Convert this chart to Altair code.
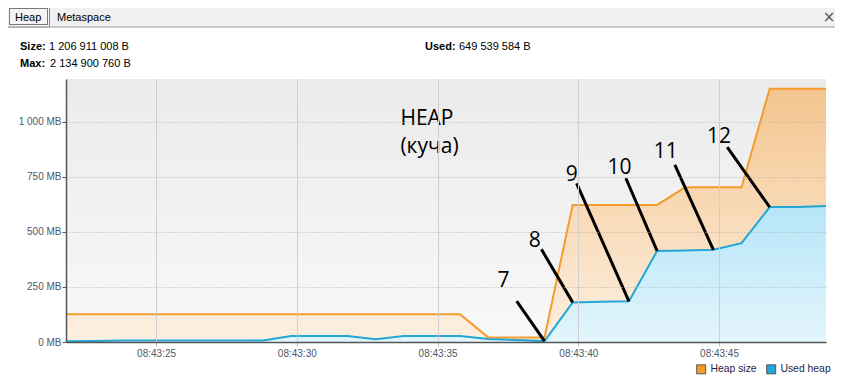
import altair as alt
import pandas as pd

# ---------------- data ----------------
# sample times, seconds after 08:43:00
seconds = [21.8, 22.8, 23.8, 24.8, 25.8, 26.8, 27.8, 28.8, 29.8, 30.8,
           31.8, 32.8, 33.8, 34.8, 35.8, 36.8, 37.8, 38.8, 39.8, 40.8,
           41.8, 42.8, 43.8, 44.8, 45.8, 46.8, 47.8, 48.8]
heap_size_mb = [126, 126, 126, 126, 126, 126, 126, 126, 126, 126,
                126, 126, 126, 126, 126, 21, 21, 21, 623, 623,
                623, 623, 703, 703, 703, 1151, 1151, 1151]
used_heap_mb = [3, 4, 7, 7, 7, 7, 7, 7, 27, 27,
                27, 13, 27, 27, 27, 14, 9, 4, 180, 183,
                185, 414, 416, 419, 449, 613, 613, 618]

x_ticks = [25, 30, 35, 40, 45]
y_ticks = [0, 250, 500, 750, 1000]
series_names = ["Heap size", "Used heap"]
series_colors = ["#f39c2c", "#22a6d6"]

# annotation numbers: label, label position (s, MB), leader start (s, MB), sample index of end
note_labels = ["7", "8", "9", "10", "11", "12"]
note_label_t = [37.34, 38.45, 39.77, 41.46, 43.11, 45.0]
note_label_mb = [250, 432, 732, 764, 836, 905]
note_start_t = [37.81, 38.69, 39.94, 41.69, 43.43, 45.29]
note_start_mb = [186, 421, 721, 744, 805, 885]
note_end_index = [17, 18, 20, 21, 23, 25]

title_lines = ["HEAP", "(куча)"]
title_t = [33.68, 33.68]
title_mb = [986, 859]

W, H = 760, 263
X_DOMAIN = [21.8, 48.8]
Y_DOMAIN = [0, 1195]

df = pd.DataFrame({"t": seconds, "heap": heap_size_mb, "used": used_heap_mb})
long_df = pd.DataFrame({
    "t": seconds * 2,
    "mb": heap_size_mb + used_heap_mb,
    "series": [series_names[0]] * len(seconds) + [series_names[1]] * len(seconds),
})
notes_df = pd.DataFrame({
    "label": note_labels, "lt": note_label_t, "lmb": note_label_mb,
    "st": note_start_t, "smb": note_start_mb,
    "et": [seconds[i] for i in note_end_index],
    "emb": [used_heap_mb[i] for i in note_end_index],
})
title_df = pd.DataFrame({"text": title_lines, "t": title_t, "mb": title_mb})

FONT = "Liberation Sans"

xscale = alt.Scale(domain=X_DOMAIN, nice=False, zero=False)
yscale = alt.Scale(domain=Y_DOMAIN, nice=False)

x_axis = alt.Axis(values=x_ticks, labelExpr="'08:43:' + datum.value", title=None,
                  grid=True, gridColor="#cfcfcf", gridWidth=1,
                  domainColor="#555555", domainWidth=1.5,
                  tickColor="#bbbbbb", tickSize=4, labelPadding=2,
                  labelFont=FONT, labelFontSize=10, labelColor="#4e5866", zindex=1)
y_axis = alt.Axis(values=y_ticks,
                  labelExpr="datum.value == 1000 ? '1 000 MB' : datum.value + ' MB'",
                  title=None, grid=True, gridColor="#b5b5b5", gridDash=[1, 2],
                  domainColor="#555555", domainWidth=1.5,
                  tickColor="#555555", tickSize=4, labelPadding=1,
                  labelFont=FONT, labelFontSize=10, labelColor="#4e5866", zindex=1)

one = pd.DataFrame({"a": [0]})

bg = alt.Chart(one).mark_rect(
    color=alt.Gradient(gradient="linear",
                       stops=[alt.GradientStop(color="#ebebeb", offset=0),
                              alt.GradientStop(color="#f8f8f8", offset=1)],
                       x1=0, x2=0, y1=0, y2=1)
).encode(x=alt.value(0), x2=alt.value(W), y=alt.value(0), y2=alt.value(H))

base = alt.Chart(df)

heap_area = base.mark_area(
    color=alt.Gradient(gradient="linear",
                       stops=[alt.GradientStop(color="#fdf0e1", offset=0),
                              alt.GradientStop(color="#f4c58e", offset=1)],
                       x1=1, x2=1, y1=1, y2=0)
).encode(x=alt.X("t:Q", scale=xscale, axis=x_axis),
         y=alt.Y("heap:Q", scale=yscale, axis=y_axis))

used_area = base.mark_area(
    color=alt.Gradient(gradient="linear",
                       stops=[alt.GradientStop(color="#e3f5fc", offset=0),
                              alt.GradientStop(color="#b6e5f8", offset=1)],
                       x1=1, x2=1, y1=1, y2=0)
).encode(x=alt.X("t:Q", scale=xscale), y=alt.Y("used:Q", scale=yscale))

heap_line = base.mark_line(color=series_colors[0], strokeWidth=2).encode(
    x=alt.X("t:Q", scale=xscale), y=alt.Y("heap:Q", scale=yscale))
used_line = base.mark_line(color=series_colors[1], strokeWidth=2).encode(
    x=alt.X("t:Q", scale=xscale), y=alt.Y("used:Q", scale=yscale))

legend_layer = alt.Chart(long_df).mark_point(shape="square", filled=True, opacity=0).encode(
    x=alt.X("t:Q", scale=xscale), y=alt.Y("mb:Q", scale=yscale),
    color=alt.Color("series:N",
                    scale=alt.Scale(domain=series_names, range=series_colors),
                    legend=alt.Legend(orient="none", legendX=630, legendY=285,
                                      direction="horizontal", title=None,
                                      symbolType="square", symbolSize=81,
                                      symbolOpacity=1, symbolStrokeColor="#555555",
                                      symbolStrokeWidth=1, labelFont=FONT,
                                      labelFontSize=10.4, labelColor="#1e1e46",
                                      labelOffset=4, columnPadding=7)))

leaders = alt.Chart(notes_df).mark_rule(color="black", strokeWidth=3).encode(
    x=alt.X("st:Q", scale=xscale), y=alt.Y("smb:Q", scale=yscale),
    x2="et:Q", y2="emb:Q")

note_text = alt.Chart(notes_df).mark_text(
    font="Open Sans", fontSize=21, color="black", align="center", baseline="alphabetic"
).encode(x=alt.X("lt:Q", scale=xscale), y=alt.Y("lmb:Q", scale=yscale), text="label:N")

title_text = alt.Chart(title_df).mark_text(
    font="Open Sans", fontSize=21, color="black", align="left", baseline="alphabetic"
).encode(x=alt.X("t:Q", scale=xscale), y=alt.Y("mb:Q", scale=yscale), text="text:N")

# ---------------- header (tab bar + stats) ----------------
OX, OY = 66, 79  # page position of plot origin


def px(v):
    return alt.value(v - OX)


def py(v):
    return alt.value(v - OY)


tab_bar = alt.Chart(one).mark_rect(color="#f0f0f0").encode(
    x=px(2), x2=px(840), y=py(5), y2=py(27))
tab_line = alt.Chart(one).mark_rule(color="#a0a0a0").encode(
    x=px(2), x2=px(840), y=py(27))
tab_left = alt.Chart(one).mark_rule(color="#808080", strokeWidth=2).encode(
    x=px(1), y=py(5), y2=py(27))
heap_tab = alt.Chart(one).mark_rect(fill="#f4f4f4", stroke="#8a8a8a", strokeWidth=1).encode(
    x=px(7.5), x2=px(49.5), y=py(5.5), y2=py(27))
focus = alt.Chart(one).mark_rect(filled=False, stroke="#000000", strokeWidth=1,
                                 strokeDash=[1, 1]).encode(
    x=px(9.5), x2=px(47.5), y=py(8.5), y2=py(24.5))

header_texts = pd.DataFrame({
    "text": ["Heap", "Metaspace", "Size:", "1 206 911 008 B", "Max:", "2 134 900 760 B",
             "Used:", "649 539 584 B"],
    "x": [15, 57, 20, 49, 20, 50, 425, 459],
    "y": [21, 21, 50, 50, 66.5, 66.5, 50, 50],
    "w": ["normal", "normal", "bold", "normal", "bold", "normal", "bold", "normal"],
})
header_layers = []
for _, r in header_texts.iterrows():
    header_layers.append(
        alt.Chart(one).mark_text(text=r["text"], font=FONT, fontSize=11,
                                 fontWeight=r["w"], color="#000000",
                                 align="left", baseline="alphabetic").encode(
            x=px(r["x"]), y=py(r["y"])))
close_x = alt.Chart(one).mark_text(text="×", font="DejaVu Sans", fontSize=15,
                                   color="#555555", align="center",
                                   baseline="middle").encode(x=px(829), y=py(17))

chart = alt.layer(
    bg, heap_area, used_area, heap_line, used_line, legend_layer,
    leaders, note_text, title_text,
    tab_bar, tab_line, tab_left, heap_tab, focus, close_x, *header_layers
).properties(
    width=W, height=H, autosize="none",
    padding={"left": 58, "top": 71, "right": 9, "bottom": 38},
    background="#ffffff",
).configure_view(stroke=None)

chart.save("out.html", embed_options={"renderer": "svg", "actions": False})
